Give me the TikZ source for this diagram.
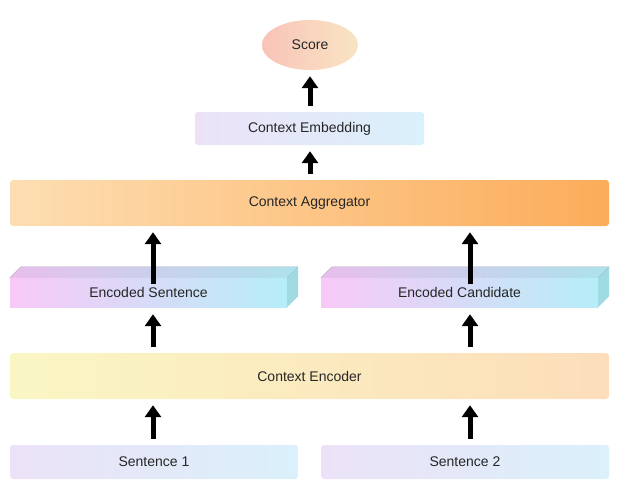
\documentclass[tikz,border=0pt]{standalone}
\usepackage{fontspec}
\setmainfont{Liberation Sans}
\usetikzlibrary{arrows.meta,shapes.geometric}
\definecolor{aggL}{RGB}{253,222,178}
\definecolor{aggR}{RGB}{252,172,90}
\definecolor{encL}{RGB}{248,200,246}
\definecolor{encR}{RGB}{182,238,248}
\definecolor{topL}{RGB}{232,190,236}
\definecolor{topR}{RGB}{172,226,236}
\definecolor{side}{RGB}{160,218,226}
\definecolor{ceL}{RGB}{250,246,196}
\definecolor{ceR}{RGB}{252,222,186}
\definecolor{lav}{RGB}{236,226,248}
\definecolor{lblue}{RGB}{218,240,250}
\definecolor{scL}{RGB}{248,196,184}
\definecolor{scR}{RGB}{249,228,196}
\begin{document}
\begin{tikzpicture}[x=1pt,y=-1pt,
  box/.style={draw=none,rounded corners=3pt,font=\fontsize{14}{16}\selectfont,text=black!85,inner sep=0pt},
  arr/.style={line width=5pt,-{Triangle[width=16pt,length=12pt]},black,shorten <=6pt,shorten >=6pt}]
\useasboundingbox (0,0) rectangle (635,491);
\node[box,ellipse,minimum width=96pt,minimum height=50pt,left color=scL,right color=scR] (score) at (310,45) {Score};
\node[box,minimum width=229pt,minimum height=33pt,left color=lav,right color=lblue] (emb) at (309.5,128.5) {Context Embedding};
\node[box,minimum width=599pt,minimum height=46pt,left color=aggL,right color=aggR] (agg) at (309.5,203) {Context Aggregator};
\foreach \n/\cx/\t in {es/148.5/Encoded Sentence, ec/459.5/Encoded Candidate}{
  \node[box,rounded corners=0pt,minimum width=277pt,minimum height=29pt,left color=encL,right color=encR] (\n) at (\cx,292.5) {\t};
  \fill[left color=topL,right color=topR] (\n.north west) -- ++(11,-11) -- ([xshift=11pt,yshift=11pt]\n.north east) -- (\n.north east) -- cycle;
  \fill[side] (\n.north east) -- ++(11,-11) -- ([xshift=11pt,yshift=11pt]\n.south east) -- (\n.south east) -- cycle;
}
\node[box,minimum width=599pt,minimum height=46pt,left color=ceL,right color=ceR] (cenc) at (309.5,376) {Context Encoder};
\node[box,minimum width=288pt,minimum height=34pt,left color=lav,right color=lblue] (s1) at (154,462) {Sentence 1};
\node[box,minimum width=288pt,minimum height=34pt,left color=lav,right color=lblue] (s2) at (465,462) {Sentence 2};
\coordinate (a1) at (153,0);
\coordinate (a2) at (470,0);
\draw[arr] (s1.north -| a1) -- (cenc.south -| a1);
\draw[arr] (s2.north -| a2) -- (cenc.south -| a2);
\draw[arr] (cenc.north -| a1) -- ([yshift=-1pt]es.south -| a1);
\draw[arr] (cenc.north -| a2) -- ([yshift=-1pt]ec.south -| a2);
\draw[arr,shorten <=5pt] ([yshift=-11pt]es.north -| a1) -- (agg.south -| a1);
\draw[arr,shorten <=5pt] ([yshift=-11pt]ec.north -| a2) -- (agg.south -| a2);
\draw[arr] (agg.north -| score) -- (emb.south -| score);
\draw[arr] (emb.north -| score) -- (score.south);
\end{tikzpicture}
\end{document}
